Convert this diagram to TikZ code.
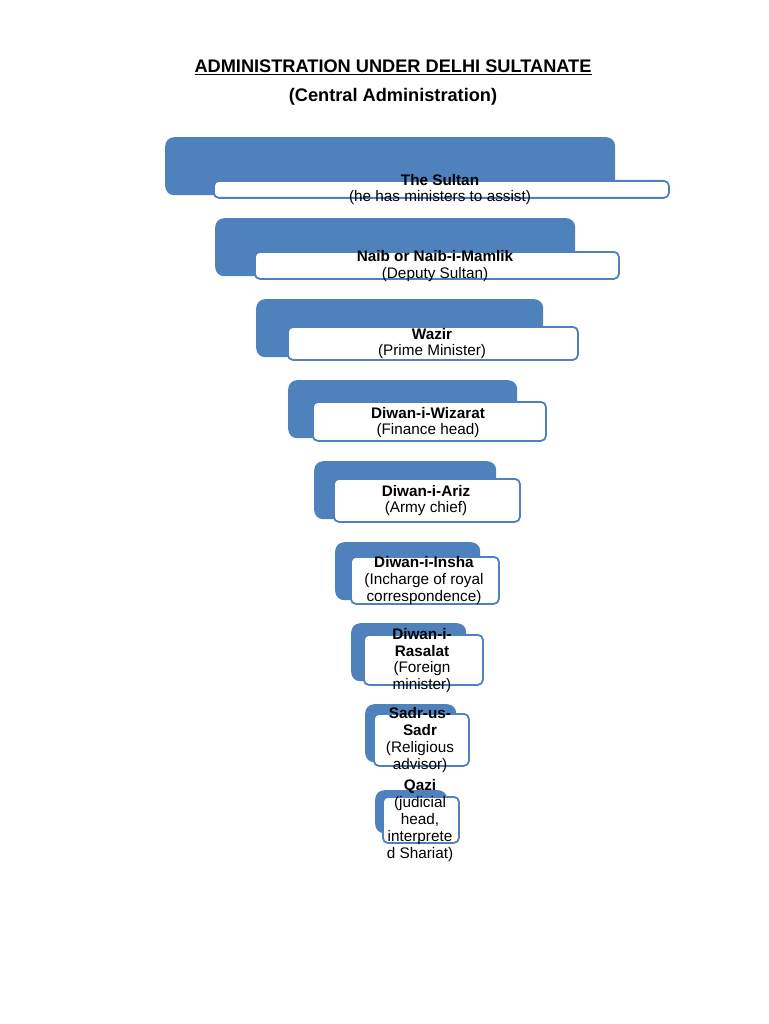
\documentclass[tikz,border=0pt]{standalone}
\usepackage{fontspec}
\setmainfont{Liberation Sans}
\usepackage{tikz}
\usetikzlibrary{positioning}
\definecolor{officeblue}{HTML}{4F81BD}

\begin{document}
\begin{tikzpicture}[
    x=1pt, y=-1pt,
    backbox/.style={rectangle, fill=officeblue, rounded corners=9pt, anchor=north west, inner sep=0pt},
    frontbox/.style={rectangle, draw=officeblue, line width=1.8pt, fill=white, rounded corners=5pt, anchor=north west, inner sep=0pt},
    label/.style={align=center, inner sep=0pt, font=\fontsize{15.3}{16.9}\selectfont},
    heading/.style={inner sep=0pt, font=\fontsize{18.2}{20}\selectfont\bfseries}
]
\useasboundingbox[fill=white] (0,0) rectangle (768,1024);

% Heading
\node[heading] (title) at (393,67) {\underline{ADMINISTRATION UNDER DELHI SULTANATE}};
\node[heading] (subtitle) at (393,97) {(Central Administration)};

% The Sultan
\node[backbox, minimum width=450pt, minimum height=58pt] (sultanbg) at (165,137) {};
\node[frontbox, minimum width=455pt, minimum height=17pt] (sultan) at (213,180) {};
\node[label] (sultantxt) at (440,189.5) {\textbf{The Sultan}\\(he has ministers to assist)};

% Naib
\node[backbox, minimum width=360pt, minimum height=58pt] (naibbg) at (215,218) {};
\node[frontbox, minimum width=364pt, minimum height=27pt] (naib) at (254,251) {};
\node[label] (naibtxt) at (435,266) {\textbf{Naib or Naib-i-Mamlik}\\(Deputy Sultan)};

% Wazir
\node[backbox, minimum width=287pt, minimum height=58pt] (wazirbg) at (256,299) {};
\node[frontbox, minimum width=290pt, minimum height=33pt] (wazir) at (287,326) {};
\node[label] (wazirtxt) at (432,343.5) {\textbf{Wazir}\\(Prime Minister)};

% Diwan-i-Wizarat
\node[backbox, minimum width=229pt, minimum height=58pt] (wizaratbg) at (288,380) {};
\node[frontbox, minimum width=233pt, minimum height=39pt] (wizarat) at (312,401) {};
\node[label] (wizarattxt) at (428,422.5) {\textbf{Diwan-i-Wizarat}\\(Finance head)};

% Diwan-i-Ariz
\node[backbox, minimum width=182pt, minimum height=58pt] (arizbg) at (314,461) {};
\node[frontbox, minimum width=186pt, minimum height=43pt] (ariz) at (333,478) {};
\node[label] (ariztxt) at (426,500.5) {\textbf{Diwan-i-Ariz}\\(Army chief)};

% Diwan-i-Insha
\node[backbox, minimum width=145pt, minimum height=58pt] (inshabg) at (335,542) {};
\node[frontbox, minimum width=148pt, minimum height=47pt] (insha) at (350,556) {};
\node[label] (inshatxt) at (424,580.5) {\textbf{Diwan-i-Insha}\\(Incharge of royal\\correspondence)};

% Diwan-i-Rasalat
\node[backbox, minimum width=115pt, minimum height=58pt] (rasalatbg) at (351,623) {};
\node[frontbox, minimum width=119pt, minimum height=50pt] (rasalat) at (363,634) {};
\node[label] (rasalattxt) at (422,660.5) {\textbf{Diwan-i-}\\\textbf{Rasalat}\\(Foreign\\minister)};

% Sadr-us-Sadr
\node[backbox, minimum width=91pt, minimum height=58pt] (sadrbg) at (365,704) {};
\node[frontbox, minimum width=95pt, minimum height=52pt] (sadr) at (373,713) {};
\node[label] (sadrtxt) at (420,740) {\textbf{Sadr-us-}\\\textbf{Sadr}\\(Religious\\advisor)};

% Qazi
\node[backbox, minimum width=72pt, minimum height=43pt] (qazibg) at (375,790) {};
\node[frontbox, minimum width=76pt, minimum height=46pt] (qazi) at (382,796) {};
\node[label] (qazitxt) at (420,820.5) {\textbf{Qazi}\\(judicial\\head,\\interprete\\d Shariat)};

\end{tikzpicture}
\end{document}
